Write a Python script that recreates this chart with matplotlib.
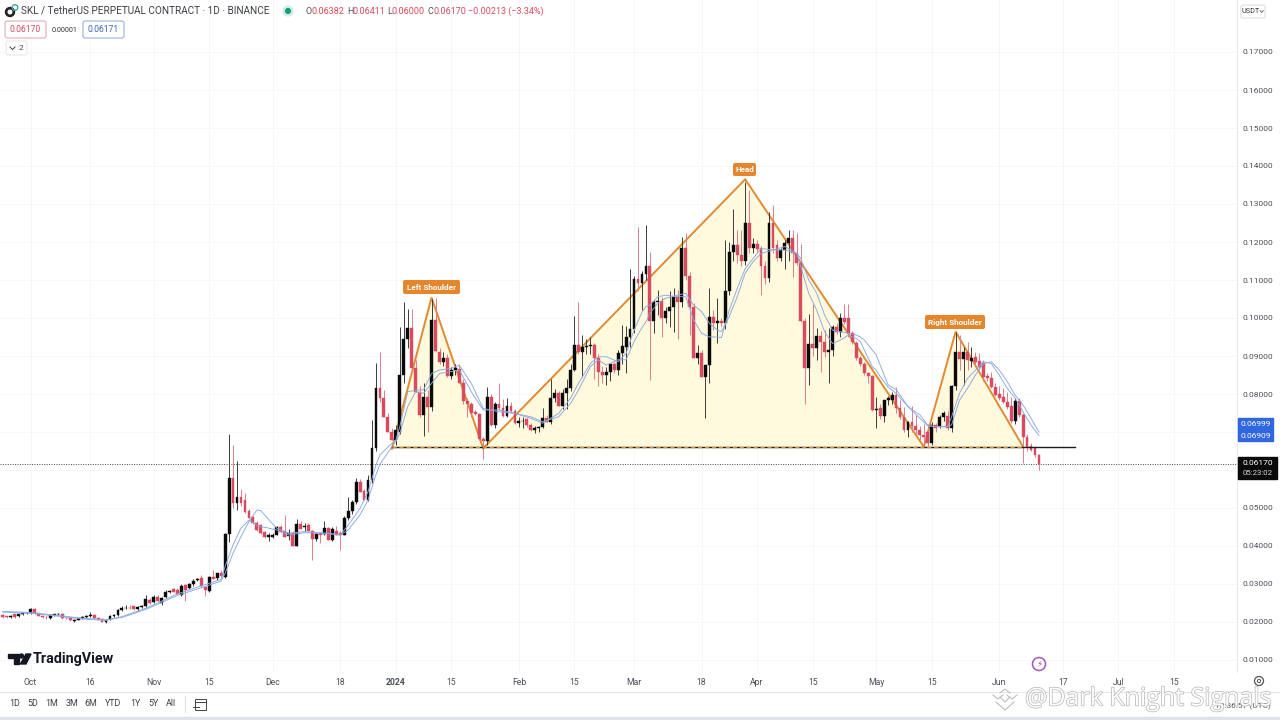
#!/usr/bin/env python3
"""SKL/USDT daily chart with a head and shoulders drawn on it."""

import matplotlib
matplotlib.use("Agg")

import matplotlib.dates as mdates
import matplotlib.patheffects as pe
import matplotlib.pyplot as plt
import numpy as np
import pandas as pd
from matplotlib.patches import Circle, FancyBboxPatch, Polygon, Rectangle

plt.rcParams["font.family"] = ["Roboto", "DejaVu Sans"]

# prices, in thousandths of a USDT
START_DATE = "2023-09-24"
opens = [
    21.8, 21.5, 21.4, 22.0, 21.7, 22.0, 22.3, 22.3, 23.3, 22.3,
    21.7, 21.4, 21.0, 21.9, 22.0, 22.0, 21.1, 21.0, 20.3, 20.6,
    21.0, 21.2, 21.6, 21.8, 21.0, 20.7, 20.1, 20.7, 21.5, 21.9,
    23.1, 23.7, 23.8, 24.1, 23.3, 24.0, 24.1, 25.8, 25.2, 26.6,
    25.0, 26.6, 28.0, 28.6, 28.5, 27.0, 29.8, 28.9, 29.9, 31.0,
    31.5, 29.3, 28.2, 31.9, 31.5, 32.9, 31.8, 43.2, 57.8, 51.2,
    53.0, 52.0, 49.2, 47.6, 46.0, 45.5, 43.8, 42.5, 42.3, 43.0,
    45.0, 43.9, 42.6, 43.4, 40.1, 45.7, 45.0, 45.5, 44.0, 41.8,
    43.4, 43.2, 44.8, 41.6, 44.0, 43.5, 43.0, 47.5, 49.3, 51.5,
    56.8, 54.5, 52.0, 57.4, 65.7, 81.5, 78.9, 74.0, 70.1, 67.9,
    70.1, 85.0, 94.6, 97.5, 86.8, 80.6, 74.5, 79.3, 76.7, 99.5,
    91.0, 88.5, 89.6, 84.8, 86.2, 86.6, 83.0, 78.2, 77.3, 75.3,
    74.7, 68.2, 67.7, 79.3, 71.8, 77.5, 76.2, 74.3, 76.8, 75.4,
    72.5, 72.9, 73.3, 71.8, 70.4, 71.0, 71.4, 73.8, 72.7, 78.9,
    80.2, 76.9, 80.2, 81.5, 86.3, 92.9, 91.0, 92.3, 92.7, 93.0,
    89.4, 85.9, 85.0, 85.9, 87.9, 86.3, 90.9, 92.5, 94.9, 97.0,
    110.2, 109.1, 111.6, 113.7, 99.3, 104.1, 104.5, 100.0, 101.8, 103.0,
    105.4, 104.1, 118.3, 111.0, 103.0, 89.6, 90.7, 84.4, 87.6, 100.3,
    98.6, 99.3, 98.6, 107.1, 117.5, 119.2, 116.6, 115.1, 125.1, 118.3,
    119.6, 118.3, 113.7, 110.6, 124.9, 119.2, 115.7, 117.9, 119.8, 121.0,
    117.0, 114.6, 99.3, 86.8, 93.2, 92.0, 95.3, 93.8, 91.1, 91.7,
    97.7, 96.4, 100.0, 99.9, 96.0, 93.5, 89.4, 87.9, 85.4, 84.7,
    75.8, 76.2, 74.2, 78.4, 78.4, 79.7, 76.2, 74.0, 70.5, 72.7,
    71.6, 70.5, 69.2, 70.0, 67.0, 71.8, 71.5, 74.0, 74.3, 71.0,
    82.0, 91.1, 89.1, 91.0, 88.8, 89.7, 88.6, 88.2, 84.8, 84.1,
    81.8, 80.0, 79.3, 78.0, 76.8, 73.0, 78.2, 74.5, 68.8, 66.3,
    65.7, 63.82,
]
highs = [
    22.2, 21.7, 21.9, 22.2, 22.2, 22.4, 22.6, 23.6, 23.6, 22.5,
    21.9, 21.6, 22.1, 22.2, 22.3, 22.3, 21.3, 21.2, 20.7, 21.1,
    21.6, 21.8, 22.6, 22.0, 21.3, 21.0, 20.7, 21.8, 22.2, 23.4,
    24.2, 24.4, 24.6, 24.3, 24.1, 24.5, 27.0, 26.4, 27.0, 27.0,
    26.7, 28.3, 28.4, 29.0, 28.9, 29.9, 29.9, 30.3, 31.2, 31.6,
    32.3, 29.6, 32.0, 33.7, 33.0, 33.6, 43.3, 69.5, 66.5, 62.5,
    55.0, 54.0, 49.8, 47.9, 46.5, 45.9, 44.0, 43.5, 43.3, 45.2,
    45.6, 48.2, 44.5, 44.0, 47.1, 46.6, 46.0, 46.0, 44.3, 43.5,
    43.8, 46.7, 45.0, 45.0, 45.2, 44.0, 48.0, 53.0, 52.0, 57.9,
    57.6, 55.0, 58.7, 73.2, 88.1, 91.1, 81.0, 75.0, 71.0, 71.8,
    97.7, 104.3, 102.5, 102.3, 89.0, 82.0, 82.8, 81.0, 105.0, 105.2,
    92.0, 91.0, 90.5, 87.0, 88.0, 88.0, 84.0, 79.0, 78.0, 75.8,
    75.0, 68.8, 81.8, 80.0, 78.0, 82.8, 78.6, 79.0, 78.0, 76.0,
    74.0, 74.0, 73.8, 72.3, 71.5, 71.6, 76.2, 74.5, 83.9, 81.3,
    80.8, 81.2, 84.0, 88.0, 100.4, 104.3, 95.5, 94.5, 95.0, 93.5,
    90.5, 87.5, 87.0, 88.0, 88.5, 91.6, 98.2, 98.0, 113.0, 111.0,
    124.0, 112.5, 124.5, 117.4, 104.7, 107.4, 105.6, 103.0, 107.0, 107.8,
    107.4, 121.2, 122.3, 112.0, 104.0, 92.9, 91.5, 87.7, 107.8, 102.0,
    105.2, 100.0, 120.5, 120.0, 128.6, 123.2, 123.2, 135.9, 133.7, 121.0,
    120.5, 119.0, 115.0, 128.0, 129.7, 120.5, 118.5, 120.5, 123.2, 123.1,
    122.3, 119.6, 100.0, 101.0, 103.8, 97.3, 96.5, 96.8, 97.3, 98.2,
    98.8, 101.2, 103.8, 103.7, 96.5, 94.0, 90.0, 88.3, 85.7, 85.0,
    79.3, 77.5, 78.5, 79.5, 80.5, 81.9, 78.5, 76.7, 73.0, 76.8,
    74.5, 71.5, 72.0, 72.0, 72.7, 72.3, 74.5, 75.5, 75.5, 82.5,
    96.4, 95.5, 92.5, 93.8, 92.5, 91.1, 90.8, 89.0, 85.5, 85.7,
    83.0, 82.0, 81.5, 80.6, 79.3, 79.0, 79.0, 75.0, 69.5, 67.0,
    66.2, 64.11,
]
lows = [
    21.0, 21.1, 21.1, 21.1, 21.4, 21.8, 22.1, 22.1, 22.2, 21.6,
    21.0, 20.9, 20.7, 21.7, 21.8, 20.9, 20.8, 20.2, 20.0, 20.4,
    20.8, 21.0, 21.4, 20.9, 20.6, 19.9, 19.8, 20.4, 21.3, 21.7,
    22.9, 23.3, 23.4, 23.2, 23.0, 23.8, 23.9, 24.8, 25.0, 25.5,
    24.4, 26.2, 27.6, 27.9, 27.3, 26.8, 25.4, 28.6, 29.6, 30.7,
    29.2, 26.9, 28.0, 31.3, 31.0, 31.9, 31.5, 41.0, 50.0, 49.5,
    50.5, 48.8, 47.3, 45.8, 44.0, 43.2, 42.2, 41.2, 42.0, 42.8,
    43.7, 42.4, 41.5, 40.0, 39.9, 44.5, 44.0, 43.9, 36.3, 41.2,
    40.7, 42.8, 41.5, 41.2, 42.8, 39.0, 42.8, 46.8, 48.5, 51.0,
    54.2, 52.0, 51.8, 56.5, 65.0, 78.0, 73.9, 70.0, 67.8, 66.5,
    69.5, 83.0, 92.0, 86.0, 80.5, 74.0, 69.0, 70.0, 75.5, 91.0,
    88.0, 87.5, 84.5, 84.0, 85.0, 82.8, 77.5, 74.0, 74.0, 74.4,
    67.8, 63.0, 66.5, 71.5, 71.0, 75.8, 74.0, 74.0, 75.0, 72.0,
    71.3, 71.0, 71.4, 70.2, 69.8, 70.0, 71.0, 72.6, 72.0, 77.8,
    76.8, 76.0, 76.0, 80.8, 86.0, 90.5, 84.5, 90.5, 90.5, 84.0,
    82.0, 83.0, 82.5, 83.5, 85.5, 85.0, 88.0, 85.4, 92.5, 96.0,
    107.0, 102.0, 110.0, 83.7, 96.0, 100.8, 95.0, 98.6, 97.7, 96.4,
    94.6, 103.0, 110.0, 95.5, 89.6, 88.0, 84.4, 73.6, 82.8, 96.8,
    93.3, 98.0, 97.0, 106.0, 115.0, 114.5, 113.8, 114.0, 117.0, 117.0,
    117.5, 106.0, 109.0, 109.6, 117.0, 115.0, 115.0, 113.0, 115.0, 110.9,
    114.0, 99.0, 77.5, 82.4, 90.0, 89.0, 85.9, 89.8, 82.8, 90.0,
    95.9, 95.0, 98.5, 95.0, 93.2, 89.0, 87.5, 85.0, 82.8, 75.5,
    71.0, 73.5, 72.7, 77.0, 77.5, 75.0, 73.5, 70.0, 68.8, 70.0,
    69.5, 68.0, 66.0, 66.4, 66.7, 70.0, 71.0, 72.8, 70.5, 70.0,
    81.0, 86.3, 82.4, 86.3, 87.0, 87.5, 86.5, 83.5, 83.5, 81.5,
    79.5, 78.5, 77.7, 76.0, 72.5, 72.0, 74.0, 61.8, 65.0, 65.0,
    63.5, 60.0,
]
closes = [
    21.2, 21.3, 21.7, 21.4, 22.0, 22.3, 22.4, 23.3, 22.3, 21.7,
    21.3, 21.2, 21.9, 22.0, 22.1, 21.0, 21.0, 20.4, 20.6, 21.0,
    21.3, 21.6, 21.8, 21.0, 20.7, 20.1, 20.6, 21.6, 21.9, 23.2,
    23.7, 23.8, 23.7, 23.3, 24.0, 24.1, 26.0, 24.9, 26.6, 25.6,
    26.4, 28.0, 28.1, 28.0, 27.4, 29.6, 28.4, 30.1, 30.9, 31.4,
    29.4, 28.3, 31.9, 31.4, 32.9, 32.0, 43.2, 57.8, 51.2, 53.0,
    51.2, 49.0, 47.5, 46.0, 44.2, 43.3, 42.3, 43.0, 43.0, 45.0,
    43.8, 42.5, 43.4, 40.0, 45.7, 44.6, 45.2, 44.0, 41.9, 43.2,
    43.0, 44.8, 41.6, 44.4, 43.0, 43.0, 47.5, 49.3, 51.7, 56.8,
    54.3, 52.1, 57.4, 65.7, 81.5, 78.9, 74.0, 70.1, 67.9, 70.5,
    85.0, 94.6, 97.5, 86.8, 80.6, 74.5, 79.3, 76.7, 99.5, 91.2,
    88.5, 89.6, 84.8, 86.2, 86.8, 83.0, 78.2, 77.3, 75.1, 74.7,
    68.2, 67.7, 79.3, 71.8, 77.5, 76.2, 74.3, 76.8, 75.4, 72.3,
    72.9, 73.0, 71.8, 70.4, 71.0, 71.4, 73.6, 72.7, 78.9, 80.2,
    76.9, 80.2, 81.5, 86.3, 92.9, 91.0, 92.3, 92.7, 92.9, 89.4,
    85.9, 85.0, 85.9, 87.9, 86.3, 90.9, 92.6, 94.9, 97.0, 110.2,
    109.1, 111.6, 113.7, 99.3, 104.1, 104.4, 100.0, 101.8, 103.0, 105.4,
    104.1, 118.3, 111.0, 103.0, 89.6, 90.7, 84.4, 87.6, 100.3, 98.6,
    99.3, 98.6, 107.1, 117.5, 119.2, 116.6, 115.1, 125.1, 118.3, 119.6,
    118.2, 113.7, 110.6, 124.9, 118.3, 115.7, 117.9, 119.8, 121.0, 117.0,
    114.6, 99.3, 86.8, 93.2, 92.0, 95.3, 93.8, 91.1, 91.7, 97.7,
    96.4, 99.9, 99.0, 96.0, 93.8, 89.4, 88.0, 85.4, 84.7, 75.8,
    76.0, 74.2, 78.4, 78.9, 79.7, 76.2, 73.9, 70.5, 72.7, 71.6,
    70.5, 69.2, 68.7, 67.0, 71.8, 71.0, 74.0, 75.1, 71.1, 82.0,
    91.1, 89.1, 91.0, 89.0, 89.6, 88.5, 87.2, 84.5, 84.1, 81.8,
    79.8, 78.9, 78.0, 76.7, 73.0, 78.2, 74.5, 68.8, 66.0, 65.3,
    63.82, 61.70,
]

# the two moving averages, read at these candle numbers
ma_idx = [
    0, 7, 15, 20, 26, 30, 36, 44, 50, 55, 56, 58, 60, 62, 64, 65, 67, 69, 72, 76,
    82, 85, 87, 90, 92, 94, 95, 98, 99, 100, 102, 104, 106, 108, 110, 113, 115, 118, 121, 125,
    129, 133, 136, 140, 143, 145, 148, 150, 152, 155, 157, 159, 161, 162, 163, 165, 167, 170, 172, 174,
    176, 178, 180, 181, 183, 185, 187, 189, 191, 194, 197, 200, 201, 203, 205, 207, 209, 211, 213, 215,
    216, 217, 219, 220, 221, 223, 225, 228, 231, 233, 235, 238, 239, 241, 243, 245, 247, 249, 251, 253,
    255, 257, 259, 261,
]
ma_one = [
    22.6, 22.3, 21.4, 20.8, 20.4, 21.4, 23.6, 27.4, 29.5, 31.2, 34.6, 40.3, 44.7, 46.8, 45.5, 45.1, 44.7, 44.2, 42.9, 43.5,
    43.4, 42.9, 45.5, 49.9, 54.3, 61.3, 64.0, 67.0, 67.9, 71.4, 80.6, 81.0, 81.1, 85.4, 86.3, 86.8, 87.6, 82.8, 76.2, 75.3,
    74.9, 73.6, 72.3, 74.9, 78.9, 82.8, 88.0, 89.8, 89.8, 88.5, 90.7, 96.8, 101.5, 103.0, 103.4, 105.6, 106.0, 105.6, 105.6, 99.5,
    96.0, 95.0, 95.0, 94.8, 102.1, 107.8, 113.0, 115.7, 118.3, 117.9, 117.9, 117.0, 113.5, 106.5, 102.1, 96.4, 93.3, 94.2, 95.5, 94.6,
    93.8, 91.6, 87.2, 86.3, 84.6, 81.8, 80.2, 76.7, 73.6, 71.6, 71.4, 71.4, 74.0, 80.2, 84.1, 86.3, 88.5, 88.0, 85.0, 81.5,
    78.9, 75.3, 71.8, 69.09,
]
ma_two = [
    22.8, 22.5, 21.6, 21.0, 20.6, 21.2, 23.3, 27.0, 29.0, 30.8, 32.8, 38.1, 42.5, 46.4, 49.5, 49.3, 46.9, 44.7, 43.3, 43.8,
    43.2, 42.9, 44.2, 48.2, 52.1, 58.8, 61.5, 66.1, 67.5, 69.6, 76.7, 80.6, 80.2, 82.8, 85.4, 85.9, 86.3, 80.6, 75.8, 75.8,
    74.9, 74.0, 72.7, 74.0, 77.5, 81.0, 87.2, 89.0, 87.6, 89.0, 89.0, 93.8, 97.5, 99.0, 101.2, 103.9, 105.2, 106.0, 106.5, 103.4,
    101.7, 98.6, 96.8, 96.4, 100.4, 105.6, 111.8, 114.8, 117.0, 117.9, 118.8, 117.0, 115.7, 110.0, 106.5, 100.8, 96.8, 96.4, 96.0, 95.5,
    95.0, 94.2, 91.6, 90.3, 87.6, 82.4, 81.2, 76.7, 74.5, 71.8, 71.4, 71.4, 71.9, 78.4, 81.5, 85.0, 88.0, 88.5, 86.3, 83.3,
    79.7, 77.1, 73.6, 69.99,
]

# head and shoulders drawing: candle number, price
pattern_idx = [98, 108, 121, 187, 232, 240, 257]
pattern_price = [65.6, 105.4, 65.7, 136.5, 66.1, 96.4, 66.1]
neck_end_idx = 270
neck_price = 66.0
last_price = 61.70

price_ticks = [0.01, 0.02, 0.03, 0.04, 0.05, 0.06, 0.07, 0.08, 0.09, 0.10,
               0.11, 0.12, 0.13, 0.14, 0.15, 0.16, 0.17]
# these two sit under the price tags on the scale
hidden_price_labels = [0.06, 0.07]
tick_dates = ["2023-10-01", "2023-10-16", "2023-11-01", "2023-11-15", "2023-12-01",
              "2023-12-18", "2024-01-01", "2024-01-15", "2024-02-01", "2024-02-15",
              "2024-03-01", "2024-03-18", "2024-04-01", "2024-04-15", "2024-05-01",
              "2024-05-15", "2024-06-01", "2024-06-17", "2024-07-01", "2024-07-15"]
tick_labels = ["Oct", "16", "Nov", "15", "Dec", "18", "2024", "15", "Feb", "15",
               "Mar", "18", "Apr", "15", "May", "15", "Jun", "17", "Jul", "15"]
range_buttons = ["1D", "5D", "1M", "3M", "6M", "YTD", "1Y", "5Y", "All"]
range_x = [15, 33, 52, 72, 91, 113, 135, 153, 171]

UP = "#0a0a0a"
DOWN = "#d84a5f"
UP_WICK = "#3c3c3c"
DOWN_WICK = "#df7f8d"
MA_BLUE = "#8aa8de"
ORANGE = "#e08b32"
FILL = "#fff9de"
GRID = "#f6f7f9"
TEXT = "#4a4e59"

W, H = 1280, 720
AX_RIGHT, AX_BOTTOM = 1237, 672

o = np.array(opens) / 1000
h = np.array(highs) / 1000
l = np.array(lows) / 1000
c = np.array(closes) / 1000
x0 = mdates.date2num(pd.Timestamp(START_DATE))
x = x0 + np.arange(len(c))

fig = plt.figure(figsize=(W / 100, H / 100), dpi=100, facecolor="white")
ax = fig.add_axes([0, (H - AX_BOTTOM) / H, AX_RIGHT / W, AX_BOTTOM / H])
ax.set_facecolor("white")

# px = 2.8 + 3.97 * candle, y = 660 - (price - 0.01) * 3800
ax.set_xlim(x0 - 2.8 / 3.97, x0 + (AX_RIGHT - 2.8) / 3.97)
ax.set_ylim(0.01 - 12 / 3800, 0.01 + 660 / 3800)

ax.set_xticks([mdates.date2num(pd.Timestamp(d)) for d in tick_dates])
ax.set_xticklabels(tick_labels)
ax.set_yticks(price_ticks)
ax.set_yticklabels(["" if p in hidden_price_labels else f"{p:.5f}" for p in price_ticks])
ax.yaxis.tick_right()
ax.tick_params(axis="x", length=0, pad=4, labelsize=6.2, labelcolor=TEXT)
ax.tick_params(axis="y", length=0, pad=4, labelsize=6, labelcolor=TEXT)
for lab in ax.get_xticklabels():
    if lab.get_text() == "2024":
        lab.set_fontweight("bold")
ax.grid(True, color=GRID, linewidth=0.7, zorder=0)
ax.set_axisbelow(True)
for name, spine in ax.spines.items():
    spine.set_visible(name == "right")
    spine.set_color("#e6e8ee")
    spine.set_linewidth(0.7)

# pattern fill and outline
px = x0 + np.array(pattern_idx)
py = np.array(pattern_price) / 1000
ax.fill(px, py, color=FILL, zorder=1, linewidth=0)
ax.plot(px, py, color=ORANGE, linewidth=1.4, solid_joinstyle="miter", zorder=2)

# price line
ax.axhline(last_price / 1000, color="#444444", linewidth=0.7, linestyle=(0, (1, 1.5)), zorder=2)

# candles
up = c >= o
wick_colors = [UP_WICK if u else DOWN_WICK for u in up]
ax.vlines(x, l, h, colors=wick_colors, linewidth=0.7, zorder=3)
body_colors = [UP if u else DOWN for u in up]
ax.bar(x, np.abs(c - o), bottom=np.minimum(o, c), width=0.72, color=body_colors,
       edgecolor=body_colors, linewidth=0.3, zorder=4)

# moving averages
ma_x = x0 + np.array(ma_idx)
ax.plot(ma_x, np.array(ma_one) / 1000, color=MA_BLUE, linewidth=0.65, zorder=5)
ax.plot(ma_x, np.array(ma_two) / 1000, color=MA_BLUE, linewidth=0.65, zorder=5)

# neckline
ax.plot([x0 + pattern_idx[0], x0 + neck_end_idx], [neck_price / 1000] * 2,
        color="#1c1c1c", linewidth=1.0, zorder=6)
ax.plot([x0 + pattern_idx[0], x0 + pattern_idx[-1]], [neck_price / 1000] * 2,
        color=ORANGE, linewidth=1.0, linestyle=(0, (3, 2)), zorder=6)

# everything else on the page sits in pixel coordinates on top
ui = fig.add_axes([0, 0, 1, 1], facecolor="none")
ui.set_xlim(0, W)
ui.set_ylim(H, 0)
ui.axis("off")


def box(x1, y1, x2, y2, face="none", edge="none", lw=0.7, radius=2):
    ui.add_patch(FancyBboxPatch((x1 + radius, y1 + radius), x2 - x1 - 2 * radius, y2 - y1 - 2 * radius,
                                boxstyle=f"round,pad={radius},rounding_size={radius}",
                                facecolor=face, edgecolor=edge, linewidth=lw, zorder=10))


def label(tx, ty, s, size=6, color=TEXT, ha="center", **kw):
    ui.text(tx, ty, s, fontsize=size, color=color, ha=ha, va="center", zorder=11, **kw)


# header
ui.add_patch(Circle((10, 12), 4.5, color="#222222", zorder=10))
ui.add_patch(Circle((10, 12), 1.8, color="white", zorder=11))
ui.add_patch(Circle((15, 7.5), 2.8, facecolor="none", edgecolor="#3fa6a0", linewidth=1.0, zorder=10))
label(21, 11, "SKL / TetherUS PERPETUAL CONTRACT · 1D · BINANCE", size=7.2, color="#3c3f48", ha="left")
ui.add_patch(Circle((288, 11), 5, color="#d3efe9", zorder=10))
ui.add_patch(Circle((288, 11), 2.4, color="#1c9b82", zorder=11))
ohlc_parts = [(306, "O", TEXT), (312, "0.06382", DOWN), (347, "H", TEXT), (352.5, "0.06411", DOWN),
              (387, "L", TEXT), (392, "0.06000", DOWN), (427, "C", TEXT), (433, "0.06170", DOWN),
              (468, "−0.00213 (−3.34%)", DOWN)]
for tx, s, col in ohlc_parts:
    label(tx, 11, s, size=6.5, color=col, ha="left")

box(5, 21, 46, 38, edge="#e2a0a8", face="white")
label(25.5, 30, "0.06170", size=6.2, color=DOWN)
label(65, 30, "0.00001", size=5.2, color="#333333")
box(83, 21, 124, 38, edge="#8aa5dc", face="white")
label(103.5, 30, "0.06171", size=6.2, color="#3c66b8")
box(6, 41, 27, 55, edge="#e4e5ea", face="white")
ui.plot([10, 12.5, 15], [47, 49.5, 47], color="#444444", linewidth=0.7, zorder=11)
label(21, 48, "2", size=6, color="#444444")

box(1241, 5, 1265, 18, edge="#d8dae0", face="white")
label(1251, 11.5, "USDT", size=5.2, color="#333333")
ui.plot([1260, 1261.7, 1263.4], [10.5, 12.5, 10.5], color="#444444", linewidth=0.5, zorder=11)

# pattern labels
for x1, y1, x2, y2, s in [(403, 280, 460, 294, "Left Shoulder"),
                          (733, 163, 756, 176, "Head"),
                          (925, 315, 985, 329, "Right Shoulder")]:
    box(x1, y1, x2, y2, face="#e5862d")
    label((x1 + x2) / 2, (y1 + y2) / 2, s, size=5.9, color="white", fontweight="bold")

# price tags on the scale
ui.add_patch(Rectangle((1238, 418), 35, 23, color="#2f67e0", zorder=10))
label(1255.5, 424, "0.06999", size=6, color="white")
label(1255.5, 435.5, "0.06909", size=6, color="white")
ui.add_patch(Rectangle((1238, 457), 39, 22, color="#0a0a0a", zorder=10))
label(1257.5, 463, "0.06170", size=6, color="white")
label(1257.5, 473, "05:23:02", size=5.6, color="#d8d8d8")

# TradingView logo
ui.add_patch(Polygon([(8, 654), (19, 654), (19, 664), (14, 664), (14, 658), (8, 658)], color="#131722", zorder=10))
ui.add_patch(Circle((21.5, 656), 2, color="#131722", zorder=10))
ui.add_patch(Polygon([(26, 654), (31, 654), (26, 664), (20.5, 664)], color="#131722", zorder=10))
label(33, 658.5, "TradingView", size=10.4, color="#131722", ha="left", fontweight="bold")

# purple bolt marker and settings gear
ui.add_patch(Circle((1039, 664), 6.5, facecolor="white", edgecolor="#9b59b6", linewidth=1.1, zorder=10))
label(1039, 664, "⚡", size=6.5, color="#9b59b6", family=["DejaVu Sans"])
ui.add_patch(Circle((1259, 681), 4.5, facecolor="white", edgecolor="#555555", linewidth=0.9, zorder=10))
ui.add_patch(Circle((1259, 681), 1.6, facecolor="white", edgecolor="#555555", linewidth=0.7, zorder=10))

# bottom toolbar
ui.plot([0, W], [692, 692], color="#e4e6eb", linewidth=0.8, zorder=9)
ui.add_patch(Rectangle((0, 717), W, 3, color="#dfe2ea", zorder=9))
for tx, s in zip(range_x, range_buttons):
    label(tx, 704, s, size=6.4, color="#3c3f48")
ui.plot([185, 185], [696, 712], color="#e0e3eb", linewidth=0.8, zorder=9)
ui.add_patch(Rectangle((195, 699), 11, 11, facecolor="white", edgecolor="#444444", linewidth=0.7, zorder=10))
ui.plot([195, 206], [702, 702], color="#444444", linewidth=0.7, zorder=11)
ui.plot([193, 199], [707, 707], color="#444444", linewidth=0.7, zorder=11)
label(1243, 706, "18:36:57 (UTC)", size=6, color="#555555")

# watermark
ui.text(1025, 699, "@Dark Knight Signals", fontsize=18, color="white", ha="left", va="center",
        family=["Open Sans", "DejaVu Sans"], zorder=12,
        path_effects=[pe.Stroke(linewidth=1.0, foreground="#b4b4b4"), pe.Normal()])
mark_x = [[1000, 1005, 1010], [993, 998, 1003], [1007, 1012, 1017], [1000, 1005, 1010], [996, 1005, 1014]]
mark_y = [[693, 689, 693], [695, 699, 695], [695, 699, 695], [697, 702, 697], [702, 710, 702]]
for mx, my in zip(mark_x, mark_y):
    ui.plot(mx, my, color="#bdbdbd", linewidth=0.8, zorder=12)

fig.savefig("out.png", dpi=100, facecolor="white")
